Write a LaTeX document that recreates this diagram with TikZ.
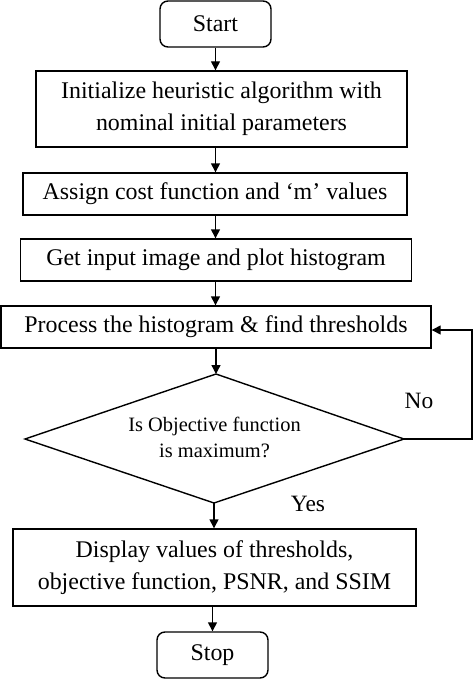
\documentclass[tikz,border=0pt]{standalone}
\usepackage{fontspec}
\setmainfont{Liberation Serif}
\usetikzlibrary{arrows.meta}
\tikzset{
  base/.style={draw=black, line width=1.4bp, inner sep=0pt, align=center, font=\fontsize{24}{32}\selectfont},
  term/.style={base, rounded corners=8bp},
  procbox/.style={base},
  dtext/.style={inner sep=0pt, align=center, font=\fontsize{20.5}{26}\selectfont},
  dline/.style={draw=black, line width=1.4bp, line join=miter},
  arr/.style={line width=1.4bp, -{Triangle[length=9bp,width=9bp]}},
  lbl/.style={font=\fontsize{23.5}{28}\selectfont, inner sep=0pt}
}
\begin{document}
\begin{tikzpicture}[x=1bp,y=-1bp]
\useasboundingbox (0,0) rectangle (474,680);
\node[term, minimum width=111bp, minimum height=46bp] (start) at (215.5,24) {Start};
\node[procbox, minimum width=371bp, minimum height=76bp] (b1) at (221.5,109) {Initialize heuristic algorithm with\\nominal initial parameters};
\node[procbox, minimum width=384bp, minimum height=42bp] (b2) at (215,194) {Assign cost function and ‘m’ values};
\node[procbox, minimum width=391bp, minimum height=42bp] (b3) at (216,260) {Get input image and plot histogram};
\node[procbox, minimum width=430bp, minimum height=42bp] (b4) at (216,327) {Process the histogram \& find thresholds};
\coordinate (dn) at (216,374);
\coordinate (dw) at (25,439);
\coordinate (de) at (404,439);
\coordinate (ds) at (214,503);
\draw[dline] (dn) -- (de) -- (ds) -- (dw) -- cycle;
\node[dtext] (d) at (214.5,437) {Is Objective function\\is maximum?};
\node[procbox, minimum width=403bp, minimum height=77bp] (b5) at (214.5,567.5) {Display values of thresholds,\\objective function, PSNR, and SSIM};
\node[term, minimum width=111bp, minimum height=46bp] (stop) at (212.5,655) {Stop};
\node[lbl] (no) at (419,401) {No};
\node[lbl] (yes) at (308,504) {Yes};
\coordinate (fb) at (472,439);
\draw[arr] (start.south) -- (start.south |- b1.north);
\draw[arr] (start.south |- b1.south) -- (start.south |- b2.north);
\draw[arr] (start.south |- b2.south) -- (start.south |- b3.north);
\draw[arr] (start.south |- b3.south) -- (start.south |- b4.north);
\draw[arr] (dn |- b4.south) -- (dn);
\draw[arr] (ds) -- (ds |- b5.north);
\draw[arr] (stop.north |- b5.south) -- (stop.north);
\draw[arr] (de) -- (fb) |- ([yshift=-3bp]b4.east);
\end{tikzpicture}
\end{document}
